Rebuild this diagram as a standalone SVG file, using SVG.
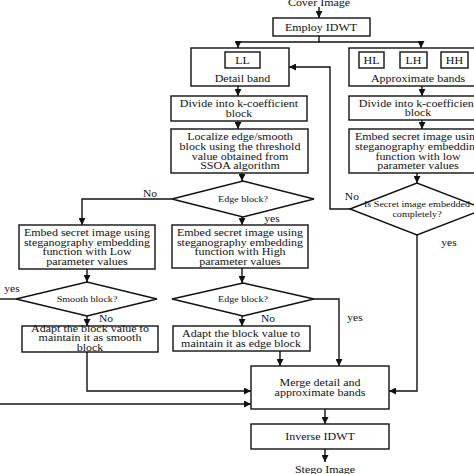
<svg xmlns="http://www.w3.org/2000/svg" width="474" height="474" viewBox="0 0 474 474">
<defs>
<marker id="ah" viewBox="0 0 10 10" refX="10" refY="5" markerWidth="7" markerHeight="7" markerUnits="userSpaceOnUse" orient="auto">
<path d="M0,0 L10,5 L0,10 z" fill="#111"/>
</marker>
<style>
.box{fill:#fff;stroke:#111;stroke-width:1.4}
.t{font-family:"Liberation Serif","Times New Roman",serif;font-size:10px;fill:#111;text-anchor:middle}
.s{font-size:9px}
.l{font-size:10px}
.c{fill:none;stroke:#111;stroke-width:1.4}
.a{marker-end:url(#ah)}
</style>
</defs>
<rect width="474" height="474" fill="#fff"/>

<g id="connectors">
<path class="c a" d="M319,7 V18"/>
<path class="c a" d="M319,36 V42 H238 V48"/>
<path class="c a" d="M319,42 H421 V48"/>
<path class="c a" d="M238,86 V96"/>
<path class="c a" d="M238,121 V129"/>
<path class="c a" d="M242,173 V181"/>
<path class="c a" d="M172,199 H82 V225"/>
<path class="c a" d="M242,217 V225"/>
<path class="c a" d="M87,269 V282"/>
<path class="c" d="M16,299 H-5"/>
<path class="c a" d="M87,316 V326"/>
<path class="c a" d="M242,268 V283"/>
<path class="c a" d="M242,316 V326"/>
<path class="c a" d="M314,299 H339 V366"/>
<path class="c a" d="M280,351 V366"/>
<path class="c a" d="M87,352 V391 H251"/>
<path class="c a" d="M-5,404 H251"/>
<path class="c a" d="M422,86 V96"/>
<path class="c a" d="M422,120 V129"/>
<path class="c a" d="M417,173 V183"/>
<path class="c a" d="M350,209 H330 V67 H289"/>
<path class="c a" d="M417,235 V391 H389"/>
<path class="c a" d="M325,409 V424"/>
<path class="c a" d="M325,449 V462"/>
<g transform="scale(1.15,1)">
<text class="t l" x="130.4" y="197">No</text>
<text class="t l" x="236.5" y="222">yes</text>
<text class="t l" x="10.4" y="292">yes</text>
<text class="t l" x="92.2" y="322.5">No</text>
<text class="t l" x="233" y="322.5">No</text>
<text class="t l" x="308.7" y="321">yes</text>
<text class="t l" x="306" y="200">No</text>
<text class="t l" x="390.4" y="246">yes</text>
</g>
</g>

<g id="cover"><g transform="translate(319,0) scale(1.2,1)"><text class="t" x="0" y="6">Cover Image</text></g></g>
<g id="employ"><rect class="box" x="273" y="18" width="97" height="18"/><g transform="translate(321,0) scale(1.2,1)"><text class="t" x="0" y="31">Employ IDWT</text></g></g>
<g id="detail">
<rect class="box" x="191" y="48" width="98" height="38"/>
<rect class="box" x="225" y="52" width="35" height="16"/>
<g transform="translate(242.5,0) scale(1.2,1)">
<text class="t" x="0" y="64">LL</text>
<text class="t" x="0" y="82">Detail band</text>
</g>
</g>
<g id="approx">
<rect class="box" x="349" y="48" width="151" height="38"/>
<rect class="box" x="359" y="52" width="25" height="16"/>
<rect class="box" x="400" y="52" width="27" height="16"/>
<rect class="box" x="441" y="52" width="27" height="16"/>
<g transform="translate(371.5,0) scale(1.2,1)"><text class="t" x="0" y="64">HL</text></g>
<g transform="translate(413.5,0) scale(1.2,1)"><text class="t" x="0" y="64">LH</text></g>
<g transform="translate(454.5,0) scale(1.2,1)"><text class="t" x="0" y="64">HH</text></g>
<g transform="translate(418,0) scale(1.2,1)"><text class="t" x="0" y="82">Approximate bands</text></g>
</g>
<g id="divideL">
<rect class="box" x="171" y="96" width="136" height="25"/>
<g transform="translate(239,0) scale(1.2,1)">
<text class="t" x="0" y="107">Divide into k-coefficient</text>
<text class="t" x="0" y="117">block</text>
</g>
</g>
<g id="divideR">
<rect class="box" x="349" y="96" width="140" height="24"/>
<g transform="translate(418,0) scale(1.2,1)">
<text class="t" x="0" y="107">Divide into k-coefficient</text>
<text class="t" x="0" y="116.5">block</text>
</g>
</g>
<g id="localize">
<rect class="box" x="171" y="129" width="137" height="44"/>
<g transform="translate(240,0) scale(1.2,1)">
<text class="t" x="0" y="140.5">Localize edge/smooth</text>
<text class="t" x="0" y="150.5">block using the threshold</text>
<text class="t" x="0" y="160">value obtained from</text>
<text class="t" x="0" y="169.5">SSOA algorithm</text>
</g>
</g>
<g id="embedR">
<rect class="box" x="349" y="129" width="140" height="44"/>
<g transform="translate(418,0) scale(1.2,1)">
<text class="t" x="0" y="140.5">Embed secret image using</text>
<text class="t" x="0" y="150.5">steganography embedding</text>
<text class="t" x="0" y="160">function with low</text>
<text class="t" x="0" y="169.5">parameter values</text>
</g>
</g>
<g id="edge1">
<polygon class="box" points="172,199 243,181 314,199 243,217"/>
<g transform="translate(243,0) scale(1.12,1)"><text class="t s" x="0" y="202.5">Edge block?</text></g>
</g>
<g id="complete">
<polygon class="box" points="350,209 417,183 484,209 417,235"/>
<g transform="translate(417,0) scale(1.12,1)">
<text class="t s" x="0" y="207.5">Is Secret image embedded</text>
<text class="t s" x="0" y="217">completely?</text>
</g>
</g>
<g id="embedLow">
<rect class="box" x="19" y="225" width="136" height="44"/>
<g transform="translate(87,0) scale(1.2,1)">
<text class="t" x="0" y="236">Embed secret image using</text>
<text class="t" x="0" y="246">steganography embedding</text>
<text class="t" x="0" y="255.5">function with Low</text>
<text class="t" x="0" y="265">parameter values</text>
</g>
</g>
<g id="embedHigh">
<rect class="box" x="172" y="225" width="136" height="43"/>
<g transform="translate(240,0) scale(1.2,1)">
<text class="t" x="0" y="236">Embed secret image using</text>
<text class="t" x="0" y="246">steganography embedding</text>
<text class="t" x="0" y="255.5">function with High</text>
<text class="t" x="0" y="265">parameter values</text>
</g>
</g>
<g id="smooth">
<polygon class="box" points="16,299 87,282 157,299 87,316"/>
<g transform="translate(87,0) scale(1.12,1)"><text class="t s" x="0" y="302.5">Smooth block?</text></g>
</g>
<g id="edge2">
<polygon class="box" points="172,299 243,283 314,299 243,316"/>
<g transform="translate(243,0) scale(1.12,1)"><text class="t s" x="0" y="302.5">Edge block?</text></g>
</g>
<g id="adaptSmooth">
<rect class="box" x="22" y="326" width="136" height="26"/>
<g transform="translate(90,0) scale(1.2,1)">
<text class="t" x="0" y="332.5">Adapt the block value to</text>
<text class="t" x="0" y="341.5">maintain it as smooth</text>
<text class="t" x="0" y="351">block</text>
</g>
</g>
<g id="adaptEdge">
<rect class="box" x="173" y="326" width="137" height="25"/>
<g transform="translate(241,0) scale(1.2,1)">
<text class="t" x="0" y="337.5">Adapt the block value to</text>
<text class="t" x="0" y="347">maintain it as edge block</text>
</g>
</g>
<g id="merge">
<rect class="box" x="251" y="366" width="138" height="43"/>
<g transform="translate(320,0) scale(1.2,1)">
<text class="t" x="0" y="386.5">Merge detail and</text>
<text class="t" x="0" y="396">approximate bands</text>
</g>
</g>
<g id="inverse">
<rect class="box" x="251" y="424" width="138" height="25"/>
<g transform="translate(320,0) scale(1.2,1)"><text class="t" x="0" y="440.5">Inverse IDWT</text></g>
</g>
<g id="stego"><g transform="translate(325,0) scale(1.2,1)"><text class="t" x="0" y="473">Stego Image</text></g></g>
</svg>
